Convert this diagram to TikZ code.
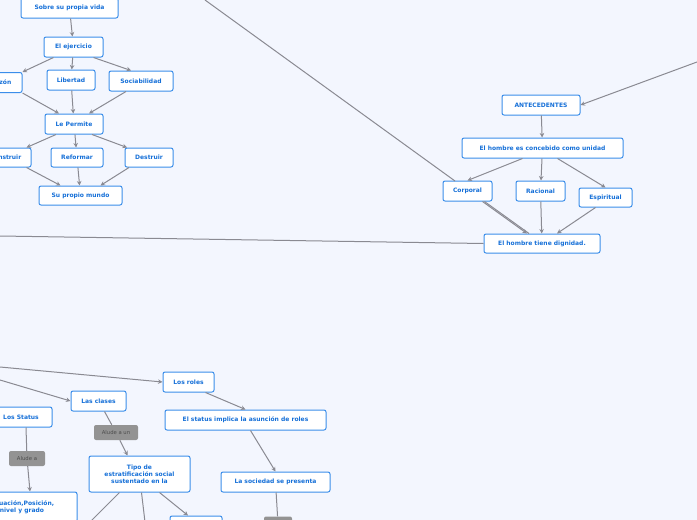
\documentclass[tikz,border=0pt]{standalone}
\usepackage{fontspec}
\setmainfont{DejaVu Sans}
\definecolor{bord}{HTML}{3B8EEA}
\definecolor{txt}{HTML}{1670D8}
\definecolor{bg}{HTML}{F3F6FE}
\definecolor{ln}{HTML}{8A8A92}
\begin{document}
\begin{tikzpicture}[x=1pt,y=-1pt,
 box/.style={draw=bord, fill=white, rounded corners=2pt, line width=1pt, text=txt, font=\bfseries\fontsize{6}{7}\selectfont, inner sep=0pt, align=center},
 tag/.style={fill=gray!85, rounded corners=2pt, text=black!70, font=\fontsize{5.3}{6}\selectfont, inner sep=0pt},
 ar/.style={draw=ln, line width=1pt, -{Stealth[length=4.5pt,width=4.5pt]}},
 lnn/.style={draw=ln, line width=1pt}]
\usetikzlibrary{arrows.meta}
\fill[bg] (0,0) rectangle (697,520);
\useasboundingbox (0,0) rectangle (697,520);
\begin{scope}
\clip (0,0) rectangle (697,520);
\coordinate (t0) at (205,0);
\coordinate (r0) at (697,62);
\coordinate (l0) at (0,236);
\coordinate (l1) at (0,367);
\coordinate (l2) at (0,380);
\coordinate (b1) at (90,522);
\coordinate (b2) at (145,522);
\node[box,minimum width=97,minimum height=20] (sob) at (69.5,8) {Sobre su propia vida};
\node[box,minimum width=59,minimum height=20] (eje) at (73.5,47) {El ejercicio};
\node[box,minimum width=42,minimum height=20] (raz) at (1,82.5) {Razón};
\node[box,minimum width=48,minimum height=20] (lib) at (71,80) {Libertad};
\node[box,minimum width=64,minimum height=20] (soc) at (141,81) {Sociabilidad};
\node[box,minimum width=58,minimum height=20] (per) at (74,124) {Le Permite};
\node[box,minimum width=51,minimum height=19] (con) at (5.5,157.5) {Construir};
\node[box,minimum width=52,minimum height=19] (ref) at (77,157.5) {Reformar};
\node[box,minimum width=48,minimum height=19] (des) at (149,157.5) {Destruir};
\node[box,minimum width=83,minimum height=19] (mun) at (80.5,195.5) {Su propio mundo};
\node[box,minimum width=78,minimum height=20] (ant) at (541,105) {ANTECEDENTES};
\node[box,minimum width=161,minimum height=20] (uni) at (542.5,148) {El hombre es concebido como unidad};
\node[box,minimum width=49,minimum height=20] (cor) at (467.5,191) {Corporal};
\node[box,minimum width=49,minimum height=20] (rac) at (540.5,191) {Racional};
\node[box,minimum width=53,minimum height=19] (esp) at (605.5,197.5) {Espiritual};
\node[box,minimum width=116,minimum height=19] (dig) at (542,243.5) {El hombre tiene dignidad.};
\node[box,minimum width=51,minimum height=20] (rol) at (188.5,382) {Los roles};
\node[box,minimum width=55,minimum height=20] (cla) at (98.5,401) {Las clases};
\node[box,minimum width=62,minimum height=20] (sta) at (21,417) {Los Status};
\node[tag,minimum width=36,minimum height=15] (al1) at (27,458.5) {Alude a};
\node[tag,minimum width=44,minimum height=15] (al2) at (116,432.5) {Alude a un};
\node[box,minimum width=101,minimum height=36] (tip) at (139.5,474) {Tipo de\\estratificación social\\sustentado en la};
\node[box,minimum width=161,minimum height=20] (imp) at (245.5,420) {El status implica la asunción de roles};
\node[box,minimum width=109,minimum height=20] (soc2) at (275.5,482) {La sociedad se presenta};
\node[box,minimum width=110,minimum height=30] (sit) at (22,507) {Situación,Posición,\\nivel y grado};
\node[box,minimum width=52,minimum height=20] (px) at (196,526) {};
\node[tag,minimum width=28,minimum height=15] (pg) at (278,524) {};
\draw[lnn] (t0) -- (455,181);
\draw[ar] (r0) -- (ant.east);
\draw[lnn] (l0) -- (dig.west);
\draw[ar] (l1) -- (rol.west);
\draw[ar] (l2) -- (cla.west);
\draw[ar] (sob) -- (eje);
\draw[ar] (eje.south west) ++(10,0) -- (raz.north east);
\draw[ar] (eje) -- (lib);
\draw[ar] (eje.south east) ++(-10,0) -- ([xshift=-10]soc.north);
\draw[ar] (raz.south east) -- ([xshift=-15]per.north);
\draw[ar] (lib) -- (per);
\draw[ar] ([xshift=-15]soc.south) -- ([xshift=15]per.north);
\draw[ar] ([xshift=-18]per.south) -- ([xshift=-5]con.north east);
\draw[ar] (per) -- (ref);
\draw[ar] ([xshift=18]per.south) -- ([xshift=-22]des.north);
\draw[ar] ([xshift=-5]con.south east) -- ([xshift=-20]mun.north);
\draw[ar] (ref) -- (mun);
\draw[ar] ([xshift=-20]des.south) -- ([xshift=20]mun.north);
\draw[ar] (ant) -- (uni);
\draw[ar] ([xshift=-20]uni.south) -- (cor.north);
\draw[ar] (uni) -- (rac);
\draw[ar] ([xshift=15]uni.south) -- (esp.north);
\draw[ar] ([xshift=15]cor.south) -- ([xshift=-15]dig.north);
\draw[lnn] ([xshift=17]cor.south) -- ([xshift=-13]dig.north);
\draw[ar] (rac) -- (dig);
\draw[ar] ([xshift=-10]esp.south) -- ([xshift=15]dig.north);
\draw[ar] ([xshift=17]rol.south) -- (imp.north);
\draw[ar] ([xshift=5]imp.south) -- (soc2.north);
\draw[lnn] (soc2) -- (pg);
\draw[lnn] ([xshift=6]cla.south) -- (al2);
\draw[ar] (al2) -- ([xshift=-12]tip.north);
\draw[lnn] ([xshift=5]sta.south) -- (al1);
\draw[ar] (al1) -- ([xshift=8]sit.north);
\draw[lnn] ([xshift=-20]tip.south) -- (b1);
\draw[lnn] ([xshift=2]tip.south) -- (b2);
\draw[ar] ([xshift=20]tip.south) -- ([xshift=-8]px.north);
\end{scope}
\end{tikzpicture}
\end{document}
